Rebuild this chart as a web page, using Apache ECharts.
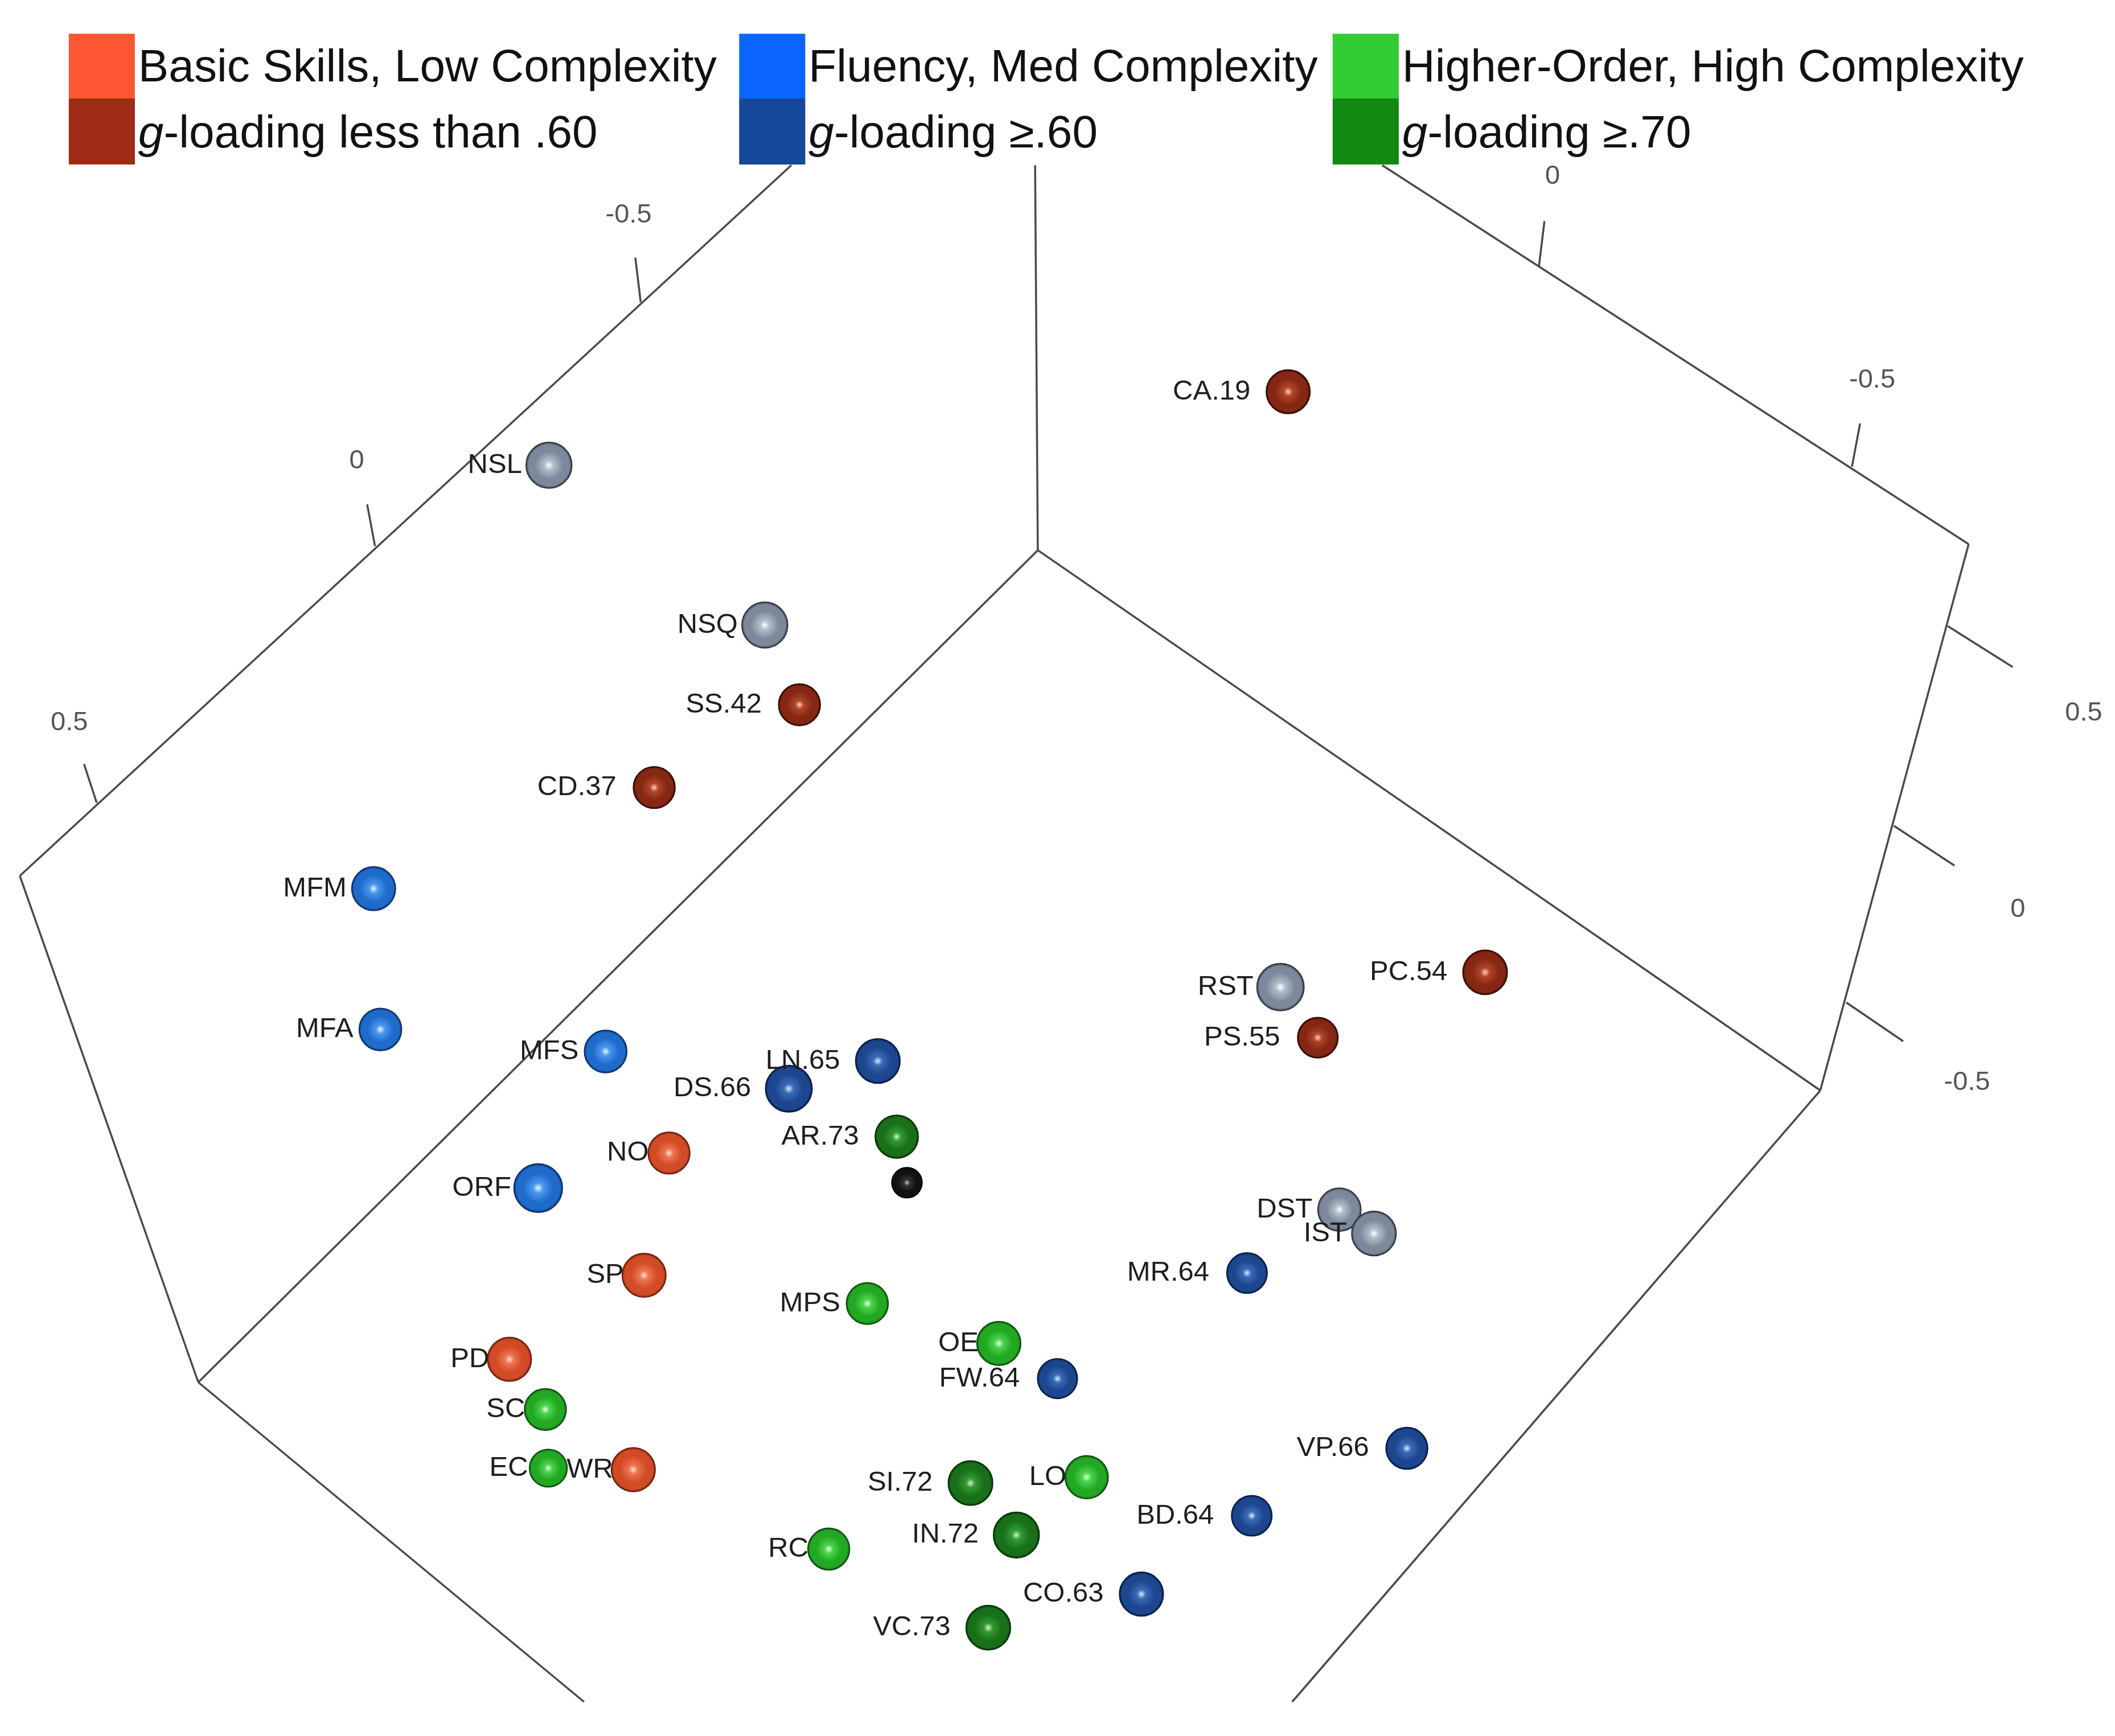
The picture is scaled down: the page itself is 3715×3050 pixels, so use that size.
<!DOCTYPE html>
<html><head><meta charset="utf-8">
<script src="https://cdn.jsdelivr.net/npm/echarts@6/dist/echarts.min.js"></script>
<style>html,body{margin:0;padding:0;background:#fff}#c{width:3715px;height:3050px}</style>
</head><body><div id="c"></div>
<script>
// Projected positions (in reference display units)
const names  = ['CA.19','NSL','NSQ','SS.42','CD.37','MFM','MFA','MFS','LN.65','DS.66','AR.73','','NO','ORF','SP','MPS','OE','FW.64','PD','SC','EC','WR','SI.72','LO','RC','IN.72','CO.63','VC.73','BD.64','VP.66','MR.64','DST','IST','RST','PC.54','PS.55'];
const groups = ['dr','gy','gy','dr','dr','lb','lb','lb','db','db','dg','bk','lr','lb','lr','lg','lg','db','lr','lg','lg','lr','dg','lg','lg','dg','db','dg','db','db','db','gy','gy','gy','dr','dr'];
const xs     = [955,407,567,592.7,485,277,282,449,650.8,584.8,664.8,672.4,496,399,477.5,643,740.5,784,377.7,404.3,406.5,469.5,719.5,805.6,614.4,753.5,846.2,732.7,928,1043,924.5,993,1018.6,949.3,1101,977];
const ys     = [290.5,345,463.5,522.6,584,659,763.4,779.7,786.8,807.3,842.9,877,855,881,945.7,966.6,996.2,1022.3,1008,1045.2,1088.7,1089.8,1099.8,1095.4,1148.7,1138.3,1182.1,1207,1124,1074,944,897,914.7,732,721,769.5];
const depthSize = [32.5,34,34,31,31,32.5,31.5,31.5,33,34.6,32,22.5,31,36,32.5,31,32.6,29.6,32.6,31,28,32.6,33,32,31,34,32.6,33,30,31,30,32,33,35,33,30];

// Frame of the 3D box and axis ticks
const frameLines = [
  [[586.7,122.5],[14.7,649.5]], [[14.7,649.5],[147,1025]], [[147,1025],[433,1262]],
  [[769.4,408],[147,1025]], [[767.4,122.5],[769.4,408]], [[769.4,408],[1349.5,808.6]],
  [[1024.7,122.5],[1459.5,403.5]], [[1459.5,403.5],[1349.5,808.6]], [[1349.5,808.6],[958,1262]]
];
const tickLines = [
  [[471,191],[475,224]], [[272.2,374],[278,405]], [[62.3,566.5],[71.7,595.3]],
  [[1145,164],[1141,197]], [[1379,314],[1373,346]],
  [[1444,464.3],[1492.2,494.7]], [[1404,612.3],[1449,641.9]], [[1368.8,743.4],[1411,772.2]]
];
const tickLabels = [
  [466,159.4,'-0.5'], [264.5,342,'0'], [51.4,536,'0.5'],
  [1151,131,'0'], [1388,282,'-0.5'],
  [1544.8,528.8,'0.5'], [1496,674.5,'0'], [1458.3,802.6,'-0.5']
];

// Legend
const legendCols = [
  {x:51,  light:'#FF5733', dark:'#9E2B14', t1:'Basic Skills, Low Complexity', t2:'{i|g}-loading less than .60'},
  {x:548, light:'#0A66FF', dark:'#15479A', t1:'Fluency, Med Complexity',      t2:'{i|g}-loading \u2265.60'},
  {x:988, light:'#33CC33', dark:'#128A12', t1:'Higher-Order, High Complexity', t2:'{i|g}-loading \u2265.70'}
];

const W = 1568, H = 3050 * 1568 / 3715, s = 3715 / W;
const FONT = '"Liberation Sans", Arial, sans-serif';

const palette = {
  lr: {hi:'#FFE2D6', mid:'#EE7450', base:'#D24A26', edge:'#6A1E0C'},
  dr: {hi:'#FFD0C0', mid:'#B04528', base:'#852712', edge:'#300A02'},
  lb: {hi:'#F0FAFF', mid:'#4A98F0', base:'#1F6BCC', edge:'#0B2E64'},
  db: {hi:'#DDEBFA', mid:'#3A6CBA', base:'#1C468E', edge:'#081A44'},
  lg: {hi:'#E6FFE6', mid:'#4CD44C', base:'#22A822', edge:'#0B4A0B'},
  dg: {hi:'#D0F2D0', mid:'#339A33', base:'#187018', edge:'#062E06'},
  gy: {hi:'#FFFFFF', mid:'#B2BCCA', base:'#7D899B', edge:'#2E3540'},
  bk: {hi:'#BBBBBB', mid:'#333333', base:'#111111', edge:'#000000'}
};
function sphere(g){
  const p = palette[g];
  return {type:'radial', x:0.5, y:0.5, r:0.5, colorStops:[
    {offset:0, color:p.hi}, {offset:0.2, color:p.mid}, {offset:0.6, color:p.base}, {offset:0.87, color:p.base}, {offset:1, color:p.edge}]};
}
function labelOffset(n){
  if (n.indexOf('.') >= 0) return 28;
  if (n.length >= 3) return 20;
  return 15;
}

const pointData = names.map((n,i)=>({
  name:n, value:[xs[i], ys[i], depthSize[i]],
  itemStyle:{color:sphere(groups[i]), borderColor:palette[groups[i]].edge, borderWidth:2, opacity:1},
  label:{show:n.length>0, offset:[-labelOffset(n)*s, 0]}
}));

const graphics = [];
legendCols.forEach(c=>{
  graphics.push({type:'rect', shape:{x:c.x*s, y:25*s, width:49*s, height:48*s}, style:{fill:c.light}});
  graphics.push({type:'rect', shape:{x:c.x*s, y:73*s, width:49*s, height:49*s}, style:{fill:c.dark}});
  graphics.push({type:'text', x:(c.x+51.5)*s, y:51*s, scaleX:1.015, style:{text:c.t1, fontSize:79, fontFamily:FONT, fill:'#111', verticalAlign:'middle', align:'left'}});
  graphics.push({type:'text', x:(c.x+51.5)*s, y:100*s, scaleX:1.015, style:{text:c.t2, fontSize:79, fontFamily:FONT, fill:'#111', verticalAlign:'middle', align:'left',
    rich:{i:{fontStyle:'italic', fontSize:79, fontFamily:FONT, fill:'#111'}}}});
});

const chart = echarts.init(document.getElementById('c'), null, {renderer:'canvas'});
chart.setOption({
  animation:false,
  backgroundColor:'#fff',
  grid:{left:0, right:0, top:0, bottom:0},
  xAxis:{type:'value', min:0, max:W, show:false},
  yAxis:{type:'value', min:0, max:H, inverse:true, show:false},
  series:[
    {type:'lines', coordinateSystem:'cartesian2d', silent:true, z:1,
     lineStyle:{color:'#4a4a4a', width:3.5, opacity:1, curveness:0},
     data: frameLines.concat(tickLines).map(c=>({coords:c}))},
    {type:'scatter', silent:true, z:2, symbolSize:0,
     data: tickLabels.map(t=>({name:t[2], value:[t[0], t[1]]})),
     label:{show:true, position:'inside', formatter:'{b}', fontSize:47, fontFamily:FONT, color:'#2a2a2a', align:'center', verticalAlign:'middle'}},
    {type:'scatter', z:3,
     symbol:'circle',
     symbolSize: v => v[2]*s,
     data: pointData,
     label:{position:'inside', formatter:'{b}', fontSize:49, fontFamily:FONT, color:'#1e1e1e', align:'right', verticalAlign:'middle'}}
  ],
  graphic: graphics
});
</script></body></html>
